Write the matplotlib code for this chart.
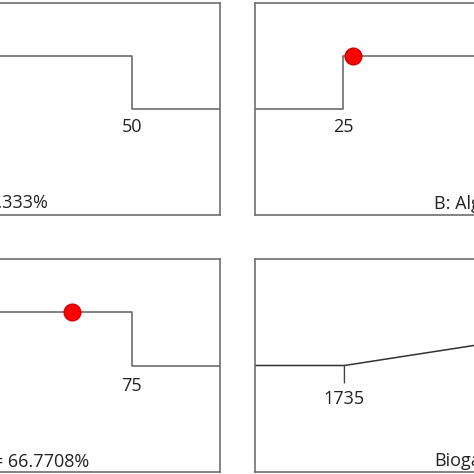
import matplotlib
matplotlib.use("Agg")
import matplotlib.pyplot as plt

plt.rcParams['font.family'] = ['Open Sans', 'DejaVu Sans']

# ---- data ----
a_x = [10, 50, 50, 70]
a_d = [1, 1, 0, 0]
a_lim = (10, 70)
a_mark = 50
a_text = "= 33.333%"

b_x = [10, 25, 25, 55]
b_d = [0, 0, 1, 1]
b_lim = (10, 55)
b_mark = 25
b_point = (26.6, 1)
b_text = "B: Algae"

c_x = [45, 75, 75, 90]
c_d = [1, 1, 0, 0]
c_lim = (45, 90)
c_mark = 75
c_point = (64.9, 1)
c_text = "= 66.7708%"

d_x = [1600, 1735, 2255]
d_d = [0, 0, 1]
d_lim = (1600, 2000)
d_mark = 1735
d_text = "Biogas"

# ---- layout ----
W = H = 474
fig = plt.figure(figsize=(4.74, 4.74), dpi=100)

def add_ax(left, top, right, bottom):
    return fig.add_axes([left / W, 1 - bottom / H, (right - left) / W, (bottom - top) / H])

ax_a = add_ax(-45, 3, 220, 215)
ax_b = add_ax(255, 3, 520, 215)
ax_c = add_ax(-45, 259, 220, 472)
ax_d = add_ax(255, 259, 520, 472)

line_col = '#5f5f5f'
spine_col = '#6e6e6e'
FS = 13

for ax, lim in [(ax_a, a_lim), (ax_b, b_lim), (ax_c, c_lim), (ax_d, d_lim)]:
    ax.set_xlim(*lim)
    ax.set_ylim(-2, 2)
    ax.set_xticks([])
    ax.set_yticks([])
    for s in ax.spines.values():
        s.set_color(spine_col)
        s.set_linewidth(1.2)

ax_a.plot(a_x, a_d, color=line_col, lw=1.1)
ax_a.annotate(str(a_mark), xy=(a_mark, 0), xytext=(0, -16.5), textcoords='offset points',
              ha='center', va='baseline', fontsize=FS, color='#222222')
ax_a.text(0.351, 0.033, a_text, transform=ax_a.transAxes, ha='right', va='baseline',
          fontsize=FS, color='#222222')

ax_b.plot(b_x, b_d, color=line_col, lw=1.1)
ax_b.plot([b_point[0]], [b_point[1]], 'o', color='#ff0000', mec='#d00000', ms=12, zorder=5)
ax_b.annotate(str(b_mark), xy=(b_mark, 0), xytext=(0, -16.5), textcoords='offset points',
              ha='center', va='baseline', fontsize=FS, color='#222222')
ax_b.text(0.675, 0.03, b_text, transform=ax_b.transAxes, ha='left', va='baseline',
          fontsize=FS, color='#222222')

ax_c.plot(c_x, c_d, color=line_col, lw=1.1)
ax_c.plot([c_point[0]], [c_point[1]], 'o', color='#ff0000', mec='#d00000', ms=12, zorder=5)
ax_c.annotate(str(c_mark), xy=(c_mark, 0), xytext=(0, -18.5), textcoords='offset points',
              ha='center', va='baseline', fontsize=FS, color='#222222')
ax_c.text(0.506, 0.023, c_text, transform=ax_c.transAxes, ha='right', va='baseline',
          fontsize=FS, color='#222222')

ax_d.plot(d_x, d_d, color='#333333', lw=1.1)
ax_d.annotate('', xy=(d_mark, 0), xytext=(0, -12.5), textcoords='offset points',
              arrowprops=dict(arrowstyle='-', color='#444444', lw=1.0, shrinkA=0, shrinkB=0))
ax_d.annotate(str(d_mark), xy=(d_mark, 0), xytext=(0, -28), textcoords='offset points',
              ha='center', va='baseline', fontsize=FS, color='#222222')
ax_d.text(0.675, 0.028, d_text, transform=ax_d.transAxes, ha='left', va='baseline',
          fontsize=FS, color='#222222')

fig.savefig('out.png', dpi=100, facecolor='white')
